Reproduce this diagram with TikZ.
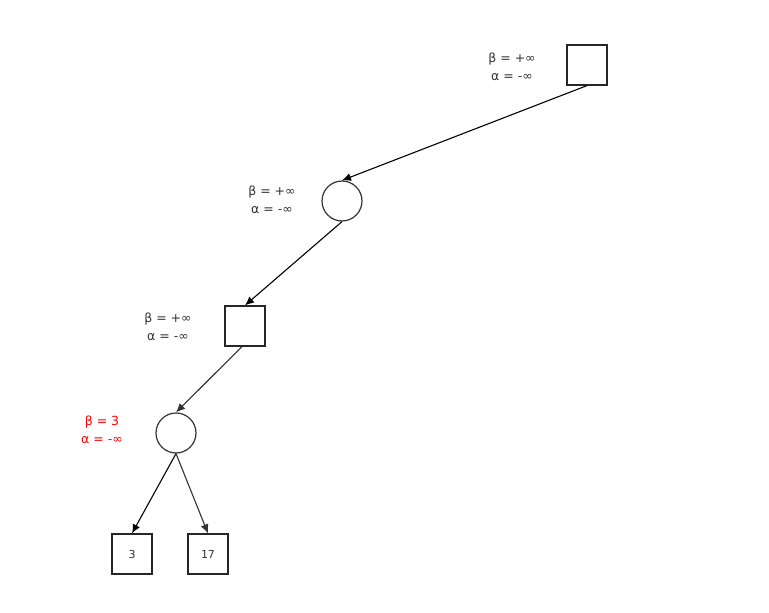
\documentclass[tikz,border=0pt]{standalone}
\usepackage{fontspec}
\setmainfont{DejaVu Sans}
\usetikzlibrary{arrows.meta}
\begin{document}
\begin{tikzpicture}[x=1pt,y=-1pt,
  sq/.style={draw=black!85,line width=1.2pt,minimum size=40pt,inner sep=0pt,font=\fontsize{11}{13}\selectfont,text=black!80},
  cir/.style={draw=black!80,line width=1.2pt,circle,minimum size=40pt,inner sep=0pt},
  lbl/.style={font=\fontsize{12.5}{15}\selectfont,text=black!80,align=center,inner sep=0pt},
  edge/.style={line width=1.1pt,-{Latex[length=9pt,width=8pt]}}]
\useasboundingbox (0,0) rectangle (769,613);
\node[sq] (r) at (587,65) {};
\node[cir] (c1) at (342,201) {};
\node[sq] (s2) at (245,326) {};
\node[cir] (c2) at (176,433) {};
\node[sq] (l1) at (132,554) {3};
\node[sq] (l2) at (208,554) {17};
\node[lbl] (t1) at (512,67) {β = +∞\\[3pt]α = -∞};
\node[lbl] (t2) at (272,200) {β = +∞\\[3pt]α = -∞};
\node[lbl] (t3) at (168,327) {β = +∞\\[3pt]α = -∞};
\node[lbl,text=red] (t4) at (102,430) {β = 3\\[3pt]α = -∞};
\draw[edge] (r.south) -- (c1.north);
\draw[edge] (c1.south) -- (s2.north);
\draw[edge,draw=black!80,fill=black!80] ([xshift=-3pt]s2.south) -- (c2.north);
\draw[edge] (c2.south) -- (l1.north);
\draw[edge,draw=black!80] (c2.south) -- (l2.north);
\end{tikzpicture}
\end{document}
